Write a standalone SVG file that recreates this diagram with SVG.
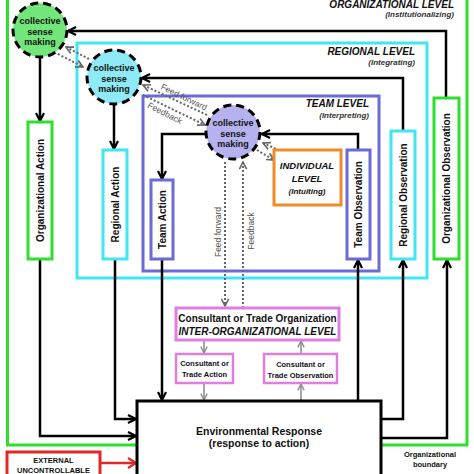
<svg xmlns="http://www.w3.org/2000/svg" width="474" height="474" viewBox="0 0 474 474">
<style>
  text { font-family: "Liberation Sans", Arial, sans-serif; fill: #111; }
  .lvl { font-weight: bold; font-style: italic; font-size: 10px; text-anchor: end; }
  .sub { font-style: italic; font-size: 8px; text-anchor: end; font-weight: bold; fill: #333; }
  .csm { font-weight: bold; font-size: 9px; text-anchor: middle; }
  .vlab { font-weight: bold; font-size: 10px; text-anchor: middle; }
  .conn { fill: none; stroke: #000; stroke-width: 2.5; marker-end: url(#ah); }
  .dot { fill: none; stroke: #666; stroke-width: 2; stroke-dasharray: 2 2; marker-end: url(#gh); }
  .gray { fill: none; stroke: #888; stroke-width: 1.5; marker-end: url(#sh); }
  .dlab { font-size: 8.5px; fill: #555; text-anchor: middle; }
  .small { font-weight: bold; font-size: 7.5px; text-anchor: middle; }
  .circ { stroke: #000; stroke-width: 3; stroke-dasharray: 8 5; }
</style>
<defs>
  <marker id="ah" viewBox="0 0 10 10" refX="9" refY="5" markerWidth="10" markerHeight="10" markerUnits="userSpaceOnUse" orient="auto">
    <path d="M1,1 L9,5 L1,9" fill="none" stroke="#000" stroke-width="2.2"/>
  </marker>
  <marker id="gh" viewBox="0 0 10 10" refX="9" refY="5" markerWidth="9" markerHeight="9" markerUnits="userSpaceOnUse" orient="auto">
    <path d="M1,1 L9,5 L1,9" fill="none" stroke="#666" stroke-width="1.8"/>
  </marker>
  <marker id="sh" viewBox="0 0 10 10" refX="9" refY="5" markerWidth="8" markerHeight="8" markerUnits="userSpaceOnUse" orient="auto">
    <path d="M1,1 L9,5 L1,9" fill="none" stroke="#888" stroke-width="1.6"/>
  </marker>
</defs>
<rect width="474" height="474" fill="#fff"/>

<!-- organizational boundary -->
<g id="org-boundary">
  <path d="M7.5,-5 V445 H137" fill="none" stroke="#2ee02e" stroke-width="3"/>
  <path d="M467,-5 V445 H381" fill="none" stroke="#2ee02e" stroke-width="3"/>
  <text class="lvl" x="454" y="8">ORGANIZATIONAL LEVEL</text>
  <text class="sub" x="454" y="17">(Institutionalizing)</text>
  <text class="small" x="430" y="457" font-size="8">Organizational</text>
  <text class="small" x="430" y="467" font-size="8">boundary</text>
</g>

<g id="regional-level">
  <rect x="77" y="43" width="350" height="235" fill="none" stroke="#40e6f0" stroke-width="3"/>
  <text class="lvl" x="415" y="55">REGIONAL LEVEL</text>
  <text class="sub" x="415" y="65">(Integrating)</text>
</g>

<g id="team-level">
  <rect x="143" y="96" width="236" height="175" fill="none" stroke="#6a6ad8" stroke-width="3"/>
  <text class="lvl" x="369" y="107">TEAM LEVEL</text>
  <text class="sub" x="369" y="118">(Interpreting)</text>
</g>

<!-- connectors -->
<g id="connectors">
  <path class="conn" d="M381,438 H447 V260"/>
  <path class="conn" d="M381,419 H403 V260"/>
  <path class="conn" d="M358,401 V260"/>
  <path class="conn" d="M358,150 V134 H262"/>
  <path class="conn" d="M403,131 V78 H142"/>
  <path class="conn" d="M446,98 V31 H68"/>
  <path class="conn" d="M40,57 V121"/>
  <path class="conn" d="M40,259 V436 H136"/>
  <path class="conn" d="M114,104 V149"/>
  <path class="conn" d="M115,259 V419 H136"/>
  <path class="conn" d="M206,134 H162 V179"/>
  <path class="conn" d="M162,259 V400"/>
  <path d="M100,463 H136" fill="none" stroke="#e02828" stroke-width="2.5"/>
  <path d="M128,458 L136,463 L128,468" fill="none" stroke="#e02828" stroke-width="2.2"/>
  <!-- dotted feed forward / feedback -->
  <path class="dot" d="M89,59 L66,47"/>
  <path class="dot" d="M58,54 L83,67"/>
  <path class="dot" d="M207,115 L143,85"/>
  <path class="dot" d="M143,95 L205,125"/>
  <path class="dot" d="M283,152 L263,143"/>
  <path class="dot" d="M257,150 L274,160"/>
  <path class="dot" d="M225,162 V306"/>
  <path class="dot" d="M243,308 V162"/>
  <text class="dlab" transform="translate(184,97) rotate(26)" y="3">Feed forward</text>
  <text class="dlab" transform="translate(165,113) rotate(27)" y="3">Feedback</text>
  <text class="dlab" transform="translate(218,232) rotate(-90)" y="3">Feed forward</text>
  <text class="dlab" transform="translate(251,231) rotate(-90)" y="3">Feedback</text>
  <!-- gray consultant arrows -->
  <path class="gray" d="M204,340 V353"/>
  <path class="gray" d="M204,383 V400"/>
  <path class="gray" d="M301,401 V384"/>
  <path class="gray" d="M301,354 V341"/>
</g>

<g id="org-csm">
  <circle class="circ" cx="40" cy="30" r="27" fill="#72e67a"/>
  <text class="csm" x="40" y="24">collective</text>
  <text class="csm" x="40" y="35">sense</text>
  <text class="csm" x="40" y="45">making</text>
</g>
<g id="regional-csm">
  <circle class="circ" cx="114" cy="77" r="27" fill="#8eeaf5"/>
  <text class="csm" x="114" y="71">collective</text>
  <text class="csm" x="114" y="82">sense</text>
  <text class="csm" x="114" y="92">making</text>
</g>
<g id="team-csm">
  <circle class="circ" cx="233" cy="132" r="27" fill="#b6b2f0"/>
  <text class="csm" x="233" y="126">collective</text>
  <text class="csm" x="233" y="137">sense</text>
  <text class="csm" x="233" y="147">making</text>
</g>

<g id="individual-level">
  <rect x="274" y="150" width="67" height="55" fill="#fff" stroke="#f08c28" stroke-width="3"/>
  <text x="307" y="169" font-size="9.5" font-weight="bold" font-style="italic" text-anchor="middle">INDIVIDUAL</text>
  <text x="307" y="182" font-size="9.5" font-weight="bold" font-style="italic" text-anchor="middle">LEVEL</text>
  <text x="307" y="194" font-size="8" font-weight="bold" font-style="italic" text-anchor="middle" fill="#333">(Intuiting)</text>
</g>

<g id="org-action">
  <rect x="28" y="122" width="24" height="137" fill="#fff" stroke="#2ee02e" stroke-width="3"/>
  <text class="vlab" transform="translate(40,190.5) rotate(-90)" y="3.5">Organizational Action</text>
</g>
<g id="regional-action">
  <rect x="103" y="150" width="24" height="109" fill="#fff" stroke="#40e6f0" stroke-width="3"/>
  <text class="vlab" transform="translate(115,204.5) rotate(-90)" y="3.5">Regional Action</text>
</g>
<g id="team-action">
  <rect x="151" y="180" width="22" height="79" fill="#fff" stroke="#6a6ad8" stroke-width="3"/>
  <text class="vlab" transform="translate(162,219.5) rotate(-90)" y="3.5">Team Action</text>
</g>
<g id="team-observation">
  <rect x="347" y="150" width="23" height="109" fill="#fff" stroke="#6a6ad8" stroke-width="3"/>
  <text class="vlab" transform="translate(358.5,204.5) rotate(-90)" y="3.5">Team Observation</text>
</g>
<g id="regional-observation">
  <rect x="391" y="131" width="24" height="128" fill="#fff" stroke="#40e6f0" stroke-width="3"/>
  <text class="vlab" transform="translate(403,195) rotate(-90)" y="3.5">Regional Observation</text>
</g>
<g id="org-observation">
  <rect x="434" y="98" width="25" height="161" fill="#fff" stroke="#2ee02e" stroke-width="3"/>
  <text class="vlab" transform="translate(446.5,178.5) rotate(-90)" y="3.5">Organizational Observation</text>
</g>

<g id="consultant">
  <rect x="176" y="308" width="163" height="32" fill="#fff" stroke="#e07ee0" stroke-width="3"/>
  <text x="257.5" y="322" font-size="10" font-weight="bold" text-anchor="middle">Consultant or Trade Organization</text>
  <text x="257.5" y="335" font-size="10" font-weight="bold" font-style="italic" text-anchor="middle">INTER-ORGANIZATIONAL LEVEL</text>
</g>
<g id="trade-action">
  <rect x="176" y="354" width="57" height="29" fill="#fff" stroke="#e07ee0" stroke-width="2.5"/>
  <text class="small" x="204.5" y="366">Consultant or</text>
  <text class="small" x="204.5" y="377">Trade Action</text>
</g>
<g id="trade-observation">
  <rect x="264" y="354" width="73" height="29" fill="#fff" stroke="#e07ee0" stroke-width="2.5"/>
  <text class="small" x="300.5" y="367">Consultant or</text>
  <text class="small" x="300.5" y="378">Trade Observation</text>
</g>

<g id="environmental-response">
  <rect x="137" y="401" width="244" height="85" fill="#fff" stroke="#000" stroke-width="3"/>
  <text x="259" y="435" font-size="10.5" font-weight="bold" text-anchor="middle">Environmental Response</text>
  <text x="259" y="447" font-size="10.5" font-weight="bold" text-anchor="middle">(response to action)</text>
</g>

<g id="external">
  <rect x="7" y="452" width="93" height="30" fill="#fff" stroke="#e02828" stroke-width="3"/>
  <text class="small" x="53.5" y="463">EXTERNAL</text>
  <text class="small" x="53.5" y="473">UNCONTROLLABLE</text>
</g>
</svg>
